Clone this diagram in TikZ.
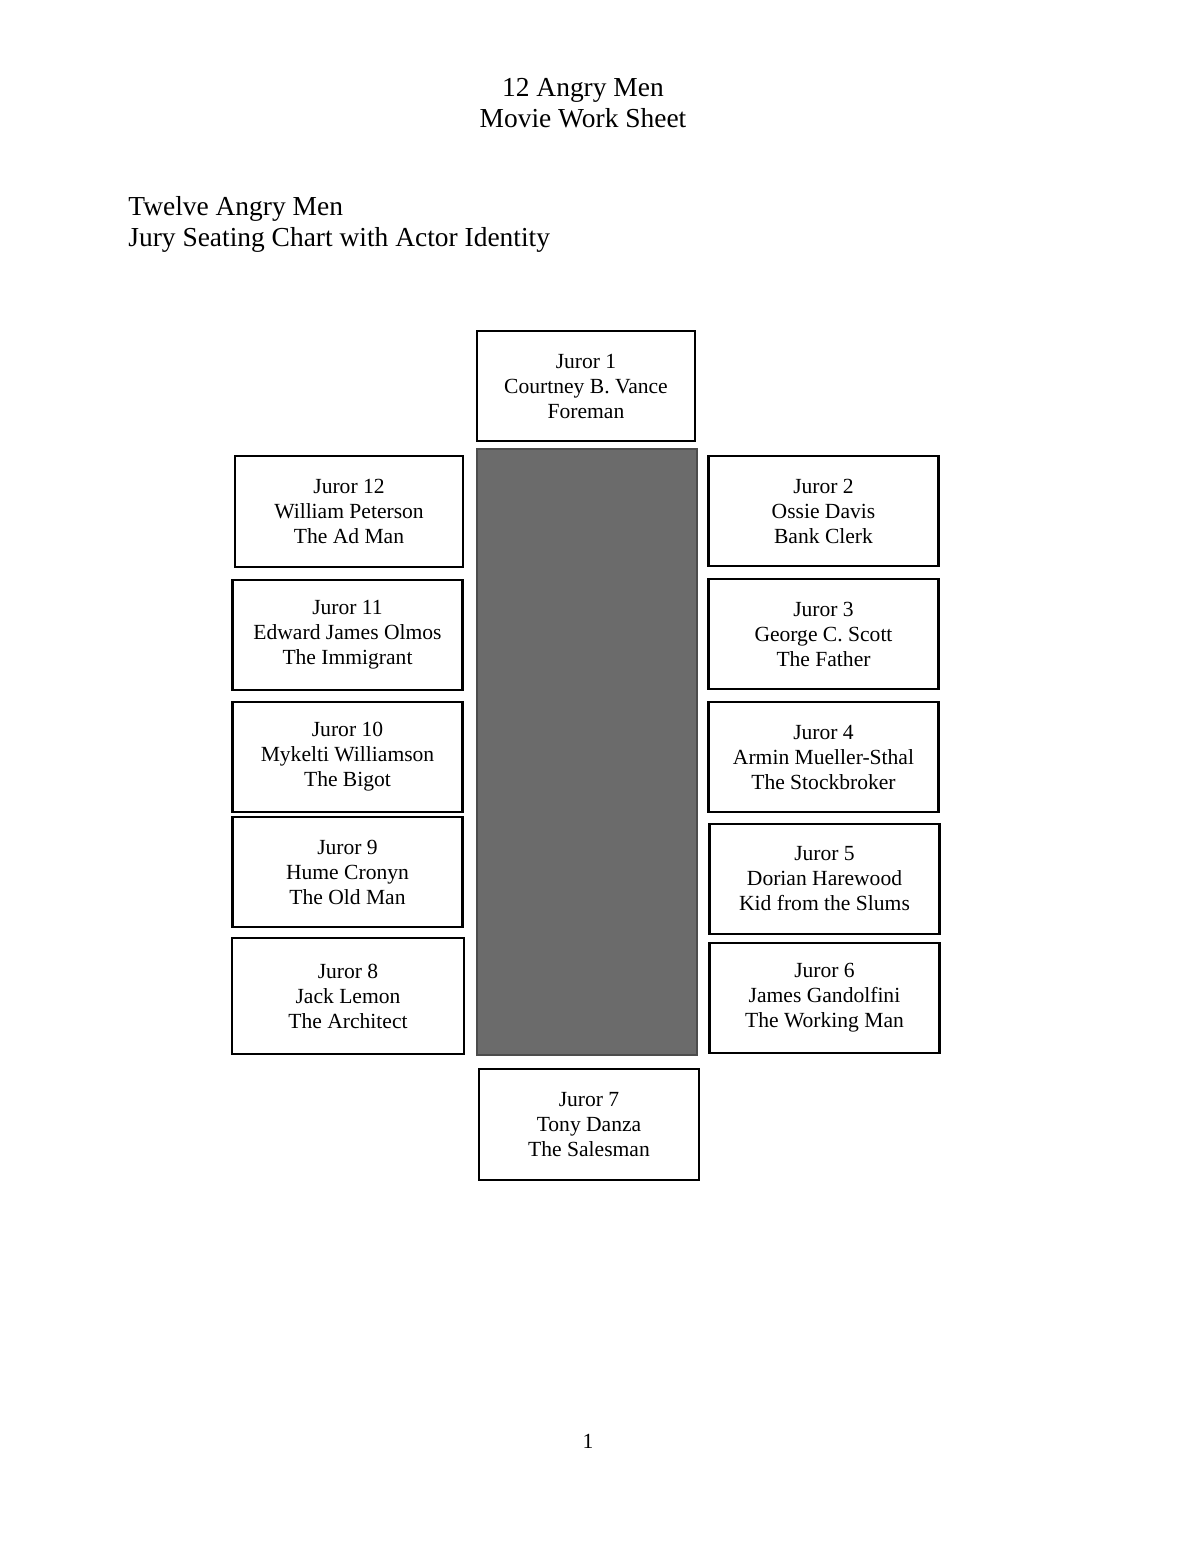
\documentclass[tikz,border=0pt]{standalone}
\usepackage{fontspec}
\setmainfont{Liberation Serif}
\begin{document}
\begin{tikzpicture}[x=0.51pt,y=-0.51pt,
  jbox/.style={draw=black, line width=1.1pt, fill=white, align=center, inner sep=0pt,
    font=\fontsize{11}{12.75}\selectfont, minimum width=117.3pt, minimum height=56.1pt},
  tablebox/.style={draw=black!70, line width=0.6pt, fill=black!58, inner sep=0pt,
    minimum width=112.2pt, minimum height=309pt},
  titletext/.style={align=center, inner sep=0pt, font=\fontsize{14}{15.8}\selectfont},
  headtext/.style={align=left, inner sep=0pt, anchor=west, font=\fontsize{14}{15.8}\selectfont},
  pagenum/.style={inner sep=0pt, font=\fontsize{11}{13}\selectfont}]
\useasboundingbox[fill=white] (0,0) rectangle (1200,1553);

\node[titletext] (title) at (583,103.5) {12 Angry Men\\Movie Work Sheet};
\node[headtext] (heading) at (128,224.5) {Twelve Angry Men\\Jury Seating Chart with Actor Identity};

\node[tablebox] (table) at (587,752) {};

\node[jbox, minimum width=111.2pt] (j1) at (586,386) {Juror 1\\Courtney B. Vance\\Foreman};
\node[jbox, minimum width=116.3pt, minimum height=56.6pt] (j12) at (349,511.5) {Juror 12\\William Peterson\\The Ad Man};
\node[jbox] (j11) at (347.5,635) {Juror 11\\Edward James Olmos\\The Immigrant};
\node[jbox] (j10) at (347.5,757) {Juror 10\\Mykelti Williamson\\The Bigot};
\node[jbox] (j9) at (347.5,872) {Juror 9\\Hume Cronyn\\The Old Man};
\node[jbox, minimum width=118.3pt, minimum height=59.2pt] (j8) at (348,996) {Juror 8\\Jack Lemon\\The Architect};

\node[jbox] (j2) at (823.5,511) {Juror 2\\Ossie Davis\\Bank Clerk};
\node[jbox] (j3) at (823.5,634) {Juror 3\\George C. Scott\\The Father};
\node[jbox] (j4) at (823.5,757) {Juror 4\\Armin Mueller-Sthal\\The Stockbroker};
\node[jbox] (j5) at (824.5,879) {Juror 5\\Dorian Harewood\\Kid from the Slums};
\node[jbox] (j6) at (824.5,998) {Juror 6\\James Gandolfini\\The Working Man};

\node[jbox, minimum width=112.2pt, minimum height=56.6pt] (j7) at (589,1124.5) {Juror 7\\Tony Danza\\The Salesman};

\node[pagenum] (page) at (588,1441) {1};
\end{tikzpicture}
\end{document}
